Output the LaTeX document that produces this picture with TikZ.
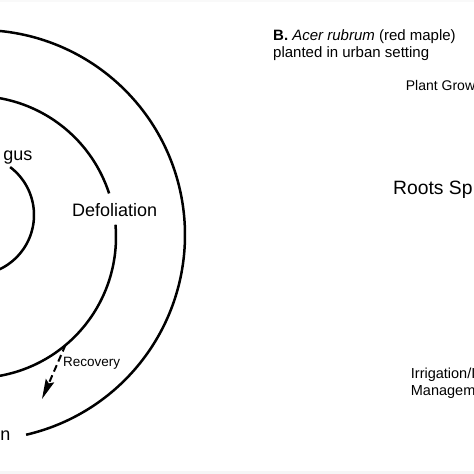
\documentclass[tikz,border=0pt]{standalone}
\usepackage{fontspec}
\setmainfont{Liberation Sans}
\usetikzlibrary{arrows.meta}
\begin{document}
\begin{tikzpicture}[x=1pt,y=-1pt,
  ring/.style={line width=2.5pt, black},
  lbl/.style={inner sep=0pt, anchor=base west, text=black},
  lble/.style={inner sep=0pt, anchor=base east, text=black},
  recov/.style={line width=2pt, dash pattern=on 7pt off 4pt, -{Stealth[length=20pt,width=9pt,inset=3pt]}}]
\useasboundingbox (0,0) rectangle (474,474);
\fill[gray!7] (0,471) rectangle (474,474);
\fill[gray!5] (0,0) rectangle (474,2);
% outer ring
\draw[ring] plot[domain=-96:77, samples=150] ({-20+205*cos(\x)},{235+205*sin(\x)});
% middle ring (gap for label)
\draw[ring] plot[domain=-100:-18, samples=90] ({-25+141*cos(\x)},{237+141*sin(\x)});
\draw[ring] plot[domain=-5:100, samples=110] ({-25+141*cos(\x)},{237+141*sin(\x)});
% inner ring
\draw[ring] plot[domain=-53:100, samples=90] ({-26+60*cos(\x)},{215+60*sin(\x)});
% labels
\node[lble] (fungus) at (32.5,160.5) {\fontsize{18}{21}\selectfont gus};
\node[lbl] (defol) at (72,216.5) {\fontsize{18}{21}\selectfont Defoliation};
\node[lble] (bottom) at (10.5,440) {\fontsize{18}{21}\selectfont n};
\node[lbl] (recovery) at (63,366) {\fontsize{13.5}{16}\selectfont Recovery};
\coordinate (rs) at (65.5,345);
\coordinate (re) at (42,399);
\draw[recov] (rs) -- (re);
% right panel
\node[lbl] (title1) at (273,40.7) {\fontsize{15}{17}\selectfont\textbf{B.} \textit{Acer rubrum} (red maple)};
\node[lbl] (title2) at (273,57.5) {\fontsize{15}{17}\selectfont planted in urban setting};
\node[lbl] (growth) at (405.7,90) {\fontsize{14}{17}\selectfont Plant Grow};
\node[lbl] (roots) at (393,194.3) {\fontsize{19.3}{23}\selectfont Roots Sp};
\node[lbl] (irr1) at (410.7,378.3) {\fontsize{14.5}{17}\selectfont Irrigation/I};
\node[lbl] (irr2) at (410.7,395) {\fontsize{14.5}{17}\selectfont Managem};
\end{tikzpicture}
\end{document}
